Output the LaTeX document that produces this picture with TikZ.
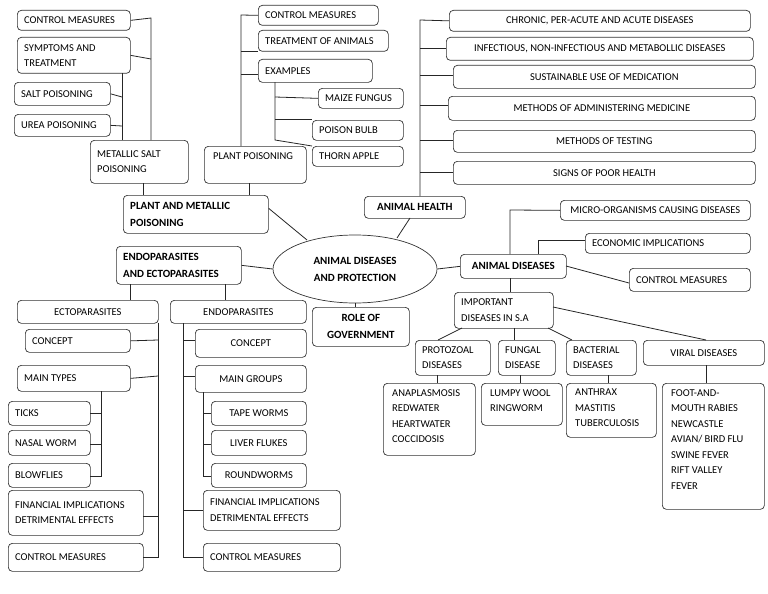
\documentclass[tikz,border=0pt]{standalone}
\usepackage{fontspec}
\setmainfont{Carlito}
\usetikzlibrary{shapes.geometric}
\begin{document}
\begin{tikzpicture}[x=1pt,y=-1pt,
  box/.style={draw=black!80,rounded corners=4pt,line width=0.7pt,inner sep=0pt},
  txt/.style={font=\fontsize{10.5}{15.5}\selectfont,align=left,inner sep=0pt},
  btxt/.style={font=\fontsize{11}{17}\selectfont\bfseries,align=left,inner sep=0pt},
  ln/.style={draw=black!85,line width=0.8pt}]
\useasboundingbox (0,0) rectangle (768,594);
\newcommand\bxl[7][txt]{\node[box,minimum width={(#4-#2)*1pt},minimum height={(#5-#3)*1pt},anchor=north west] (#6) at (#2,#3) {};
  \node[#1,anchor=west] at ([xshift=7pt]#6.west) {#7};}
\newcommand\bxt[7][txt]{\node[box,minimum width={(#4-#2)*1pt},minimum height={(#5-#3)*1pt},anchor=north west] (#6) at (#2,#3) {};
  \node[#1,anchor=north west] at ([xshift=9pt,yshift=-6pt]#6.north west) {#7};}
\newcommand\bxc[7][txt]{\node[box,minimum width={(#4-#2)*1pt},minimum height={(#5-#3)*1pt},anchor=north west] (#6) at (#2,#3) {};
  \node[#1,align=center] at (#6.center) {#7};}
% left top
\bxl{17}{10}{130}{30}{mcm}{CONTROL MEASURES}
\bxl{17}{37}{130}{73}{mst}{SYMPTOMS AND\\TREATMENT}
\bxl{14}{82}{110}{105}{salt}{SALT POISONING}
\bxl{14}{114}{110}{136}{urea}{UREA POISONING}
\bxl{90}{140}{188}{183}{msp}{METALLIC SALT\\POISONING}
\draw[ln] (mcm.east) -- (151,18) -- (151,140);
\draw[ln] (mst.east) -- (151,59);
\draw[ln] (122,73) -- (122,140);
\draw[ln] (salt.east) -- (122,97); \draw[ln] (urea.east) -- (122,126);
\bxt{204}{146}{306}{183}{pp}{PLANT POISONING}
\bxl{258}{5}{378}{25}{pcm}{CONTROL MEASURES}
\bxl{258}{30}{388}{51}{pta}{TREATMENT OF ANIMALS}
\bxl{258}{59}{372}{82}{pex}{EXAMPLES}
\draw[ln] (pcm.west) -- (241,15) -- (241,146);
\draw[ln] (241,51) -- (258,51); \draw[ln] (241,74) -- (258,74);
\bxl{318}{88}{403}{108}{maize}{MAIZE FUNGUS}
\bxl{312}{120}{403}{140}{bulb}{POISON BULB}
\bxl{312}{146}{403}{166}{thorn}{THORN APPLE}
\draw[ln] (275,82) -- (275,140) -- (thorn.north west);
\draw[ln] (275,97) -- (maize.west); \draw[ln] (275,119) -- (312,119);
\bxl[btxt]{123}{195}{268}{233}{pmp}{PLANT AND METALLIC\\POISONING}
\draw[ln] (143,183) -- (143,195); \draw[ln] (249,183) -- (249,195);
\bxl[btxt]{116}{246}{241}{284}{ee}{ENDOPARASITES\\AND ECTOPARASITES}
\node[draw=black!80,line width=0.7pt,ellipse,minimum width=164pt,minimum height=68pt,inner sep=0pt,btxt,align=center] (main) at (355,269) {ANIMAL DISEASES\\AND PROTECTION};
\draw[ln] (pmp.east) ++(0,-6) -- (307,240);
\draw[ln] (ee.east) -- (main.west);
% animal health
\bxc[btxt]{364}{196}{465}{218}{ah}{ANIMAL HEALTH}
\draw[ln] (410,218) -- (397,238);
\bxc{449}{10}{750}{31}{h1}{CHRONIC, PER-ACUTE AND ACUTE DISEASES}
\bxc{446}{37}{753}{60}{h2}{INFECTIOUS, NON-INFECTIOUS AND METABOLLIC DISEASES}
\bxc{453}{65}{755}{88}{h3}{SUSTAINABLE USE OF MEDICATION}
\bxc{448}{96}{755}{120}{h4}{METHODS OF ADMINISTERING MEDICINE}
\bxc{453}{130}{755}{152}{h5}{METHODS OF TESTING}
\bxc{453}{161}{755}{184}{h6}{SIGNS OF POOR HEALTH}
\draw[ln] (420,196) -- (420,20) -- (h1.west);
\foreach \n/\y in {h2/48,h3/75,h4/105,h5/140,h6/172} \draw[ln] (420,\y) -- (\n.west |- 0,\y);
% animal diseases
\bxc[btxt]{460}{254}{566}{278}{ad}{ANIMAL DISEASES}
\draw[ln] (main.east) -- (ad.west);
\bxc{560}{200}{750}{220}{micro}{MICRO-ORGANISMS CAUSING DISEASES}
\bxl{585}{233}{750}{253}{econ}{ECONOMIC IMPLICATIONS}
\bxl{629}{268}{750}{291}{adcm}{CONTROL MEASURES}
\draw[ln] (510,254) -- (510,210) -- (micro.west);
\draw[ln] (538,254) -- (538,240) -- (585,240);
\draw[ln] (566,266) -- (629,283);
\bxl{454}{292}{553}{328}{imp}{IMPORTANT\\DISEASES IN S.A}
\draw[ln] (510,278) -- (510,292);
\bxl{415}{340}{490}{375}{proto}{PROTOZOAL\\DISEASES}
\bxl{498}{340}{555}{375}{fung}{FUNGAL\\DISEASE}
\bxl{566}{340}{636}{375}{bact}{BACTERIAL\\DISEASES}
\bxc{643}{340}{764}{365}{viral}{VIRAL DISEASES}
\draw[ln] (438,340) -- (462,328); \draw[ln] (514,328) -- (514,340);
\draw[ln] (548,328) -- (572,340); \draw[ln] (553,307) -- (706,340);
\bxt{383}{383}{475}{455}{l1}{ANAPLASMOSIS\\REDWATER\\HEARTWATER\\COCCIDOSIS}
\bxt{481}{383}{562}{425}{l2}{LUMPY WOOL\\RINGWORM}
\bxt{566}{383}{656}{437}{l3}{ANTHRAX\\MASTITIS\\TUBERCULOSIS}
\bxt{662}{383}{764}{509}{l4}{FOOT-AND-\\MOUTH RABIES\\NEWCASTLE\\AVIAN/ BIRD FLU\\SWINE FEVER\\RIFT VALLEY\\FEVER}
\draw[ln] (437,375) -- (437,383); \draw[ln] (520,375) -- (520,383);
\draw[ln] (608,375) -- (608,383); \draw[ln] (706,365) -- (706,383);
\bxc[btxt]{312}{307}{409}{346}{gov}{ROLE OF\\GOVERNMENT}
\draw[ln] (355,303) -- (355,307);
% parasites
\bxc{17}{300}{158}{323}{ecto}{ECTOPARASITES}
\bxc{170}{300}{306}{323}{endo}{ENDOPARASITES}
\draw[ln] (130,284) -- (130,300); \draw[ln] (225,284) -- (225,300);
\bxl{25}{329}{130}{352}{ec1}{CONCEPT}
\bxl{17}{365}{130}{391}{ec2}{MAIN TYPES}
\bxl{8}{401}{90}{425}{ec3}{TICKS}
\bxl{8}{430}{90}{455}{ec4}{NASAL WORM}
\bxl{8}{463}{90}{487}{ec5}{BLOWFLIES}
\bxl{8}{490}{143}{535}{ec6}{FINANCIAL IMPLICATIONS\\DETRIMENTAL EFFECTS}
\bxl{8}{543}{143}{571}{ec7}{CONTROL MEASURES}
\draw[ln] (158,323) -- (158,557) -- (143,557);
\draw[ln] (ec1.east) -- (158,340); \draw[ln] (ec2.east) -- (158,376); \draw[ln] (143,516) -- (158,516);
\draw[ln] (101,391) -- (101,476) -- (90,476);
\draw[ln] (90,413) -- (101,413); \draw[ln] (90,444) -- (101,444);
\bxc{195}{329}{306}{357}{en1}{CONCEPT}
\bxc{195}{365}{306}{392}{en2}{MAIN GROUPS}
\bxc{211}{401}{306}{425}{en3}{TAPE WORMS}
\bxc{211}{430}{306}{455}{en4}{LIVER FLUKES}
\bxc{211}{463}{306}{487}{en5}{ROUNDWORMS}
\bxl{203}{490}{340}{530}{en6}{FINANCIAL IMPLICATIONS\\DETRIMENTAL EFFECTS}
\bxl{203}{543}{340}{571}{en7}{CONTROL MEASURES}
\draw[ln] (183,323) -- (183,557) -- (203,557);
\draw[ln] (183,340) -- (195,340); \draw[ln] (183,376) -- (195,376); \draw[ln] (183,510) -- (203,510);
\draw[ln] (203,392) -- (203,476) -- (211,476);
\draw[ln] (203,413) -- (211,413); \draw[ln] (203,444) -- (211,444);
\end{tikzpicture}
\end{document}
